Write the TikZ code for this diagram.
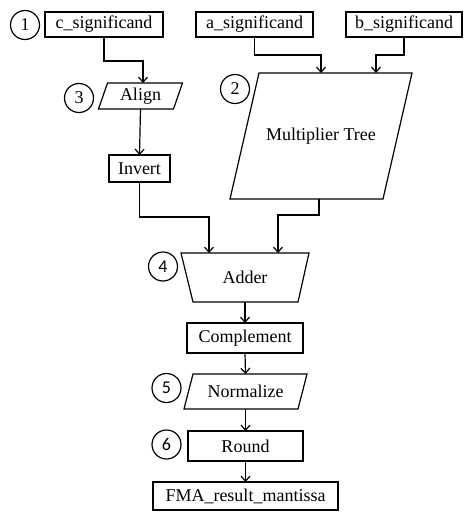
\documentclass[tikz,border=0pt]{standalone}
\usepackage{fontspec}
\setmainfont{Liberation Serif}
\newfontfamily\numfont{Carlito}
\usetikzlibrary{arrows.meta}

\begin{document}
\begin{tikzpicture}[x=1pt,y=-1pt,line width=1.2pt,
    every node/.style={inner sep=0pt,outer sep=0pt,font=\fontsize{18}{20}\selectfont},
    box/.style={draw,rectangle},
    tag/.style={draw,circle,minimum size=29pt},
    sanstag/.style={tag,font=\fontsize{18}{20}\numfont},
    flow/.style={-{Straight Barb[length=5pt,width=9pt]}}]
    \useasboundingbox (0,0) rectangle (474,519);
    % inputs
    \node[tag] (n1) at (25,25) {1};
    \node[box,minimum width=118pt,minimum height=25pt] (csig) at (104,24.5) {c\_significand};
    \node[box,minimum width=117pt,minimum height=25pt] (asig) at (254.5,24.5) {a\_significand};
    \node[box,minimum width=116pt,minimum height=25pt] (bsig) at (404,24.5) {b\_significand};
    % addend path
    \node[tag] (n3) at (79,98) {3};
    \node[minimum width=84pt,minimum height=26pt] (align) at (140.5,96) {Align};
    \draw ([xshift=9pt]align.north west) -- (align.north east)
        -- ([xshift=-9pt]align.south east) -- (align.south west) -- cycle;
    \node[box,minimum width=61pt,minimum height=27pt] (invert) at (139.5,168.5) {Invert};
    % product path
    \node[tag] (n2) at (235,89) {2};
    \node[minimum width=182pt,minimum height=126pt] (tree) at (321,136) {Multiplier Tree};
    \draw ([xshift=29pt]tree.north west) -- (tree.north east)
        -- ([xshift=-29pt]tree.south east) -- (tree.south west) -- cycle;
    % sum and post-processing
    \node[sanstag] (n4) at (163,266.5) {4};
    \node[minimum width=128pt,minimum height=49pt] (adder) at (245,277.5) {Adder};
    \draw (adder.north west) -- (adder.north east)
        -- ([xshift=-11pt]adder.south east) -- ([xshift=12pt]adder.south west) -- cycle;
    \node[box,minimum width=116pt,minimum height=30pt] (compl) at (245,338) {Complement};
    \node[sanstag] (n5) at (166.5,388) {5};
    \node[minimum width=123pt,minimum height=35pt] (norm) at (245.5,391.5) {Normalize};
    \draw ([xshift=9pt]norm.north west) -- (norm.north east)
        -- ([xshift=-9pt]norm.south east) -- (norm.south west) -- cycle;
    \node[sanstag] (n6) at (166.5,444.5) {6};
    \node[box,minimum width=115pt,minimum height=30pt] (round) at (245.5,446) {Round};
    \node[box,minimum width=185pt,minimum height=28pt] (fma) at (245.5,496) {FMA\_result\_mantissa};
    % connectors
    \draw[flow] (csig.south) -- ++(0,24) -| ([xshift=2.5pt]align.north);
    \draw[flow] (align.south) -- (invert.north);
    \draw[flow] (asig.south) -- ++(0,18) -| (tree.north);
    \draw[flow] (bsig.south) -- ++(0,18) -| ([xshift=55pt]tree.north);
    \draw[flow] (invert.south) -- ++(0,35) -| ([xshift=-36pt]adder.north);
    \draw[flow] ([xshift=-2pt]tree.south) -- ++(0,16) -| ([xshift=33pt]adder.north);
    \draw[flow] (adder.south) -- (compl.north);
    \draw[flow] (compl.south) -- (norm.north);
    \draw[flow] (norm.south) -- (round.north);
    \draw[flow] (round.south) -- (fma.north);
\end{tikzpicture}
\end{document}
